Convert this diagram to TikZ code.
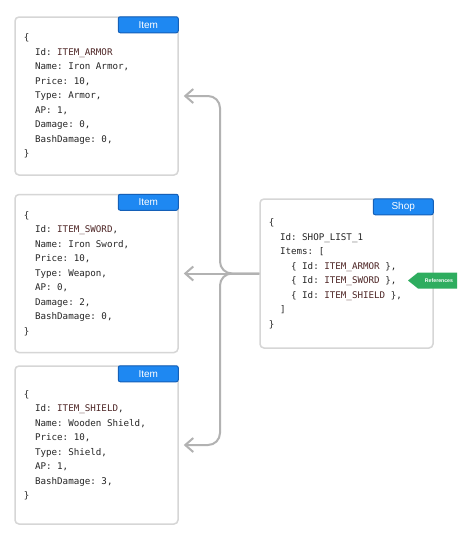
\documentclass[tikz,border=0pt]{standalone}
\usepackage{fontspec}
\setmainfont{Liberation Sans}
\setsansfont{Liberation Sans}
\setmonofont{DejaVu Sans Mono}
\usetikzlibrary{arrows.meta,calc}
\definecolor{boxline}{HTML}{D6D6D6}
\definecolor{tagblue}{HTML}{1E88F2}
\definecolor{tagedge}{HTML}{1460B8}
\definecolor{codegray}{HTML}{262626}
\definecolor{idred}{HTML}{4E2626}
\definecolor{connector}{HTML}{B2B2B2}
\definecolor{refgreen}{HTML}{2EAD5F}
\newcommand\idv[1]{\textcolor{idred}{#1}}
\newcommand\ind{\hphantom{xx}}
\begin{document}
\begin{tikzpicture}[x=1pt,y=-1pt,
  card/.style={draw=boxline, line width=1.5pt, fill=white, rounded corners=4pt, inner sep=0pt, minimum width=163pt},
  tagbox/.style={draw=tagedge, fill=tagblue, line width=1pt, rounded corners=2pt, text=white, font=\fontsize{10}{11}\selectfont, minimum width=60pt, minimum height=16pt, inner sep=0pt, anchor=north east},
  code/.style={font=\ttfamily\fontsize{9.2}{14.5}\selectfont, text=codegray, align=left, inner sep=0pt, anchor=west},
  conn/.style={draw=connector, line width=2pt, rounded corners=12pt, -{Straight Barb[length=8pt,width=14pt]}, shorten >=5pt}
]
\fill[white] (0,0) rectangle (474,542);
\useasboundingbox (0,0) rectangle (474,542);

\node[card, minimum height=158pt] (item1) at (96.5,96) {};
\node[card, minimum height=158pt] (item2) at (96.5,273.5) {};
\node[card, minimum height=158pt] (item3) at (96.5,445) {};
\node[card, minimum width=173pt, minimum height=149pt] (shop) at (346.5,273.5) {};

\node[tagbox] (tag1) at (item1.north east) {Item};
\node[tagbox] (tag2) at (item2.north east) {Item};
\node[tagbox] (tag3) at (item3.north east) {Item};
\node[tagbox] (tag4) at (shop.north east) {Shop};

\node[code] (t1) at ($(item1.west)+(9.5,0)$) {\{\\
\ind Id: \idv{ITEM\_ARMOR}\\
\ind Name: Iron Armor,\\
\ind Price: 10,\\
\ind Type: Armor,\\
\ind AP: 1,\\
\ind Damage: 0,\\
\ind BashDamage: 0,\\
\}};

\node[code] (t2) at ($(item2.west)+(9.5,0)$) {\{\\
\ind Id: \idv{ITEM\_SWORD},\\
\ind Name: Iron Sword,\\
\ind Price: 10,\\
\ind Type: Weapon,\\
\ind AP: 0,\\
\ind Damage: 2,\\
\ind BashDamage: 0,\\
\}};

\node[code] (t3) at ($(item3.west)+(9.5,0)$) {\{\\
\ind Id: \idv{ITEM\_SHIELD},\\
\ind Name: Wooden Shield,\\
\ind Price: 10,\\
\ind Type: Shield,\\
\ind AP: 1,\\
\ind BashDamage: 3,\\
\}};

\node[code] (t4) at ($(shop.west)+(9.5,0)$) {\{\\
\ind Id: SHOP\_LIST\_1\\
\ind Items: [\\
\ind\ind \{ Id: \idv{ITEM\_ARMOR} \},\\
\ind\ind \{ Id: \idv{ITEM\_SWORD} \},\\
\ind\ind \{ Id: \idv{ITEM\_SHIELD} \},\\
\ind ]\\
\}};

\coordinate (trunk) at (220,273.5);
\draw[conn] (shop.west) -- (trunk) -- (trunk |- item1.east) -- (item1.east);
\draw[conn] (shop.west) -- (trunk) -- (trunk |- item3.east) -- (item3.east);
\draw[conn] (shop.west) -- (item2.east);

\fill[refgreen] (408,280.5) -- (418,272.5) -- (457,272.5) -- (457,288.5) -- (418,288.5) -- cycle;
\node[font=\bfseries\fontsize{5.2}{6}\selectfont, text=white, inner sep=0pt] (refs) at (439,280.5) {References};
\end{tikzpicture}
\end{document}
